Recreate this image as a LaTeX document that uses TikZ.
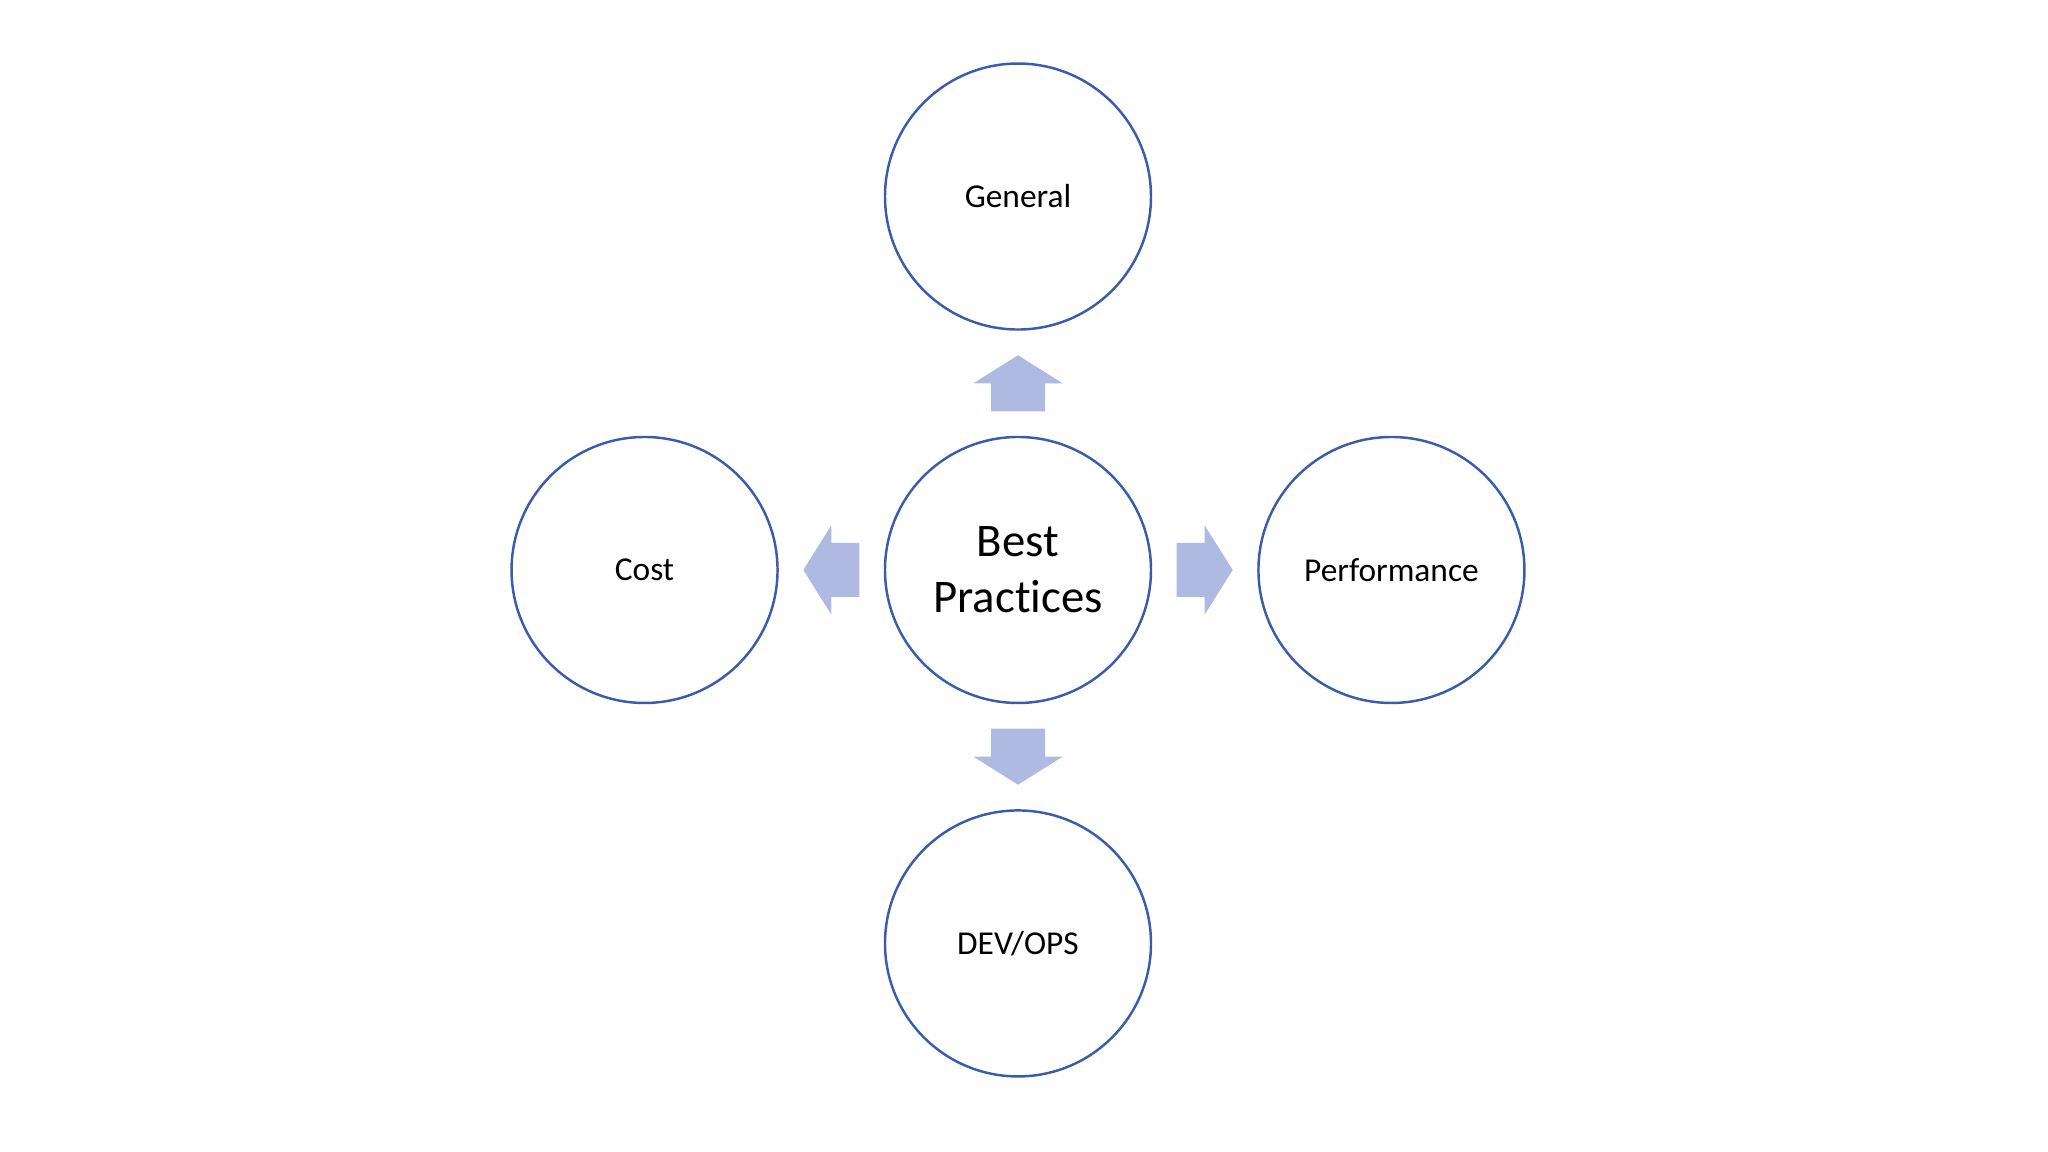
\documentclass[tikz,border=0pt]{standalone}
\usepackage{fontspec}
\setmainfont{Carlito}[Ligatures=NoCommon]
\usepackage{tikz}
\usetikzlibrary{positioning,calc}

\definecolor{ringblue}{HTML}{3B5CAA}
\definecolor{arrowblue}{HTML}{B0B9E1}

\begin{document}
\begin{tikzpicture}[
    topic/.style={circle, draw=ringblue, line width=0.7pt, fill=white,
        minimum size=2.66cm, inner sep=0pt, font=\fontsize{9.5}{11.4}\selectfont},
    hub/.style={topic, align=center, font=\fontsize{13.3}{16}\selectfont},
    blockarr/.style={fill=arrowblue, draw=none},
    node distance=1.05cm
]
    \useasboundingbox (0,0) rectangle (20.48,11.52);
    % centre and the four areas
    \node[hub] (bp) at (10.18,5.82) {Best\\Practices};
    \node[topic, above=of bp] (gen) {General};
    \node[topic, left=of bp] (cost) {Cost};
    \node[topic, right=of bp] (perf) {Performance};
    \node[topic, below=of bp] (dev) {DEV/OPS};
    % block arrows half way between the hub and each circle
    \foreach \n/\a in {gen/90, cost/180, perf/0, dev/-90} {
        \coordinate (m\n) at ($(bp)!0.5!(\n)$);
        \begin{scope}[shift={(m\n)}, rotate=\a]
            \fill[blockarr] (-0.28,-0.27) -- (0,-0.27) -- (0,-0.445) -- (0.28,0)
                -- (0,0.445) -- (0,0.27) -- (-0.28,0.27) -- cycle;
        \end{scope}
    }
\end{tikzpicture}
\end{document}
